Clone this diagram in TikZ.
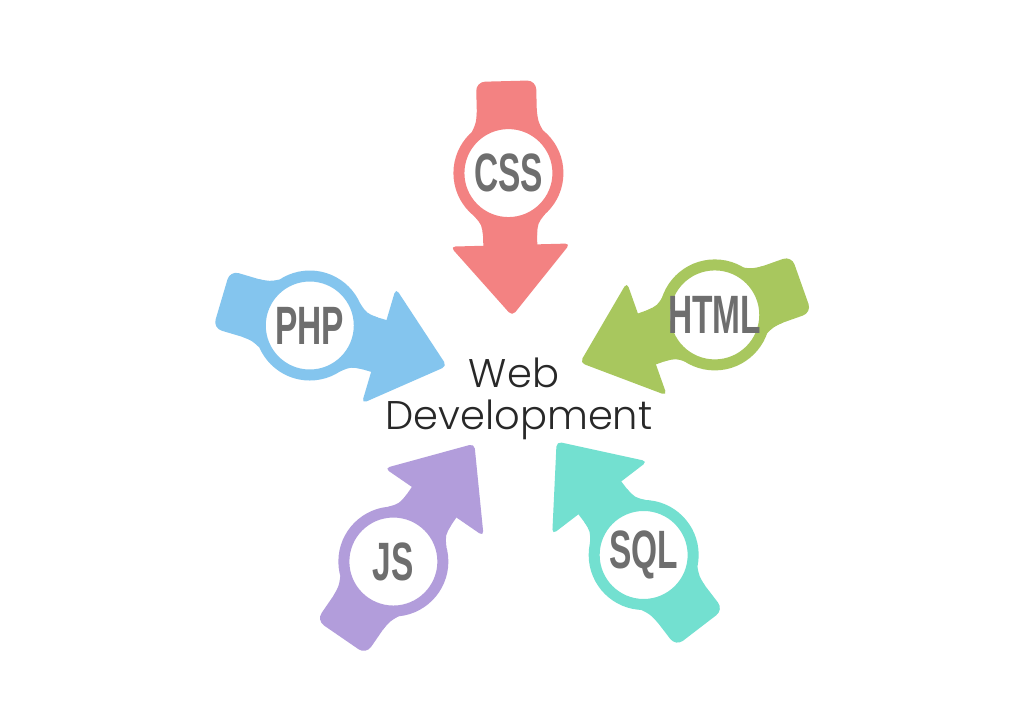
\documentclass[tikz,border=0pt]{standalone}
\usepackage{fontspec}
\newfontfamily\webfont{Poppins Light}
\newfontfamily\lblfont{Liberation Sans}[FakeStretch=0.62]
\definecolor{csscol}{RGB}{243,130,130}
\definecolor{htmlcol}{RGB}{168,199,94}
\definecolor{sqlcol}{RGB}{115,224,208}
\definecolor{jscol}{RGB}{178,157,219}
\definecolor{phpcol}{RGB}{132,197,238}
\definecolor{labelgray}{RGB}{110,110,110}
\definecolor{titlegray}{RGB}{40,40,40}
\tikzset{
  ring/.style={circle, draw=#1, line width=11pt, fill=white, minimum size=99pt,
    inner sep=0pt, font=\lblfont\bfseries\fontsize{54}{54}\selectfont, text=labelgray},
  title/.style={anchor=base, font=\webfont\fontsize{40}{40}\selectfont, text=titlegray, inner sep=0pt},
}
\newcommand\webarrow[4]{%
  \begin{scope}[shift={(514,-386)}, rotate=#1]
    \fill[#2, rounded corners=9pt] (200,-30) -- (305,-30) -- (305,30) -- (200,30) -- cycle;
    \fill[#2] (213,0) -- (255.1,35.4) .. controls (264,31) .. (275,30) -- (275,-30)
      .. controls (264,-31) .. (255.1,-35.4) -- cycle;
    \fill[#2] (215,-27) -- (135,-27) -- (135,27) -- (215,27) -- cycle;
    \fill[#2] (213,0) -- (170.9,35.4) .. controls (162,28) .. (150,27) -- (150,-27)
      .. controls (162,-28) .. (170.9,-35.4) -- cycle;
    \fill[#2, rounded corners=5pt] (141,-60) -- (70,0) -- (141,60) -- cycle;
    \node[ring=#2] (#3) at (213,0) {#4};
  \end{scope}}
\begin{document}
\begin{tikzpicture}[x=1pt,y=1pt]
  \fill[white] (0,0) rectangle (1024,-723);
  \useasboundingbox (0,0) rectangle (1024,-723);
  \webarrow{91.5}{csscol}{css}{CSS}
  \webarrow{19.5}{htmlcol}{html}{HTML}
  \webarrow{-52.5}{sqlcol}{sql}{SQL}
  \webarrow{-124.5}{jscol}{js}{JS}
  \webarrow{163.5}{phpcol}{php}{PHP}
  \node[title] (web) at (514,-387) {Web};
  \node[title] (dev) at (519,-429) {Development};
\end{tikzpicture}
\end{document}
